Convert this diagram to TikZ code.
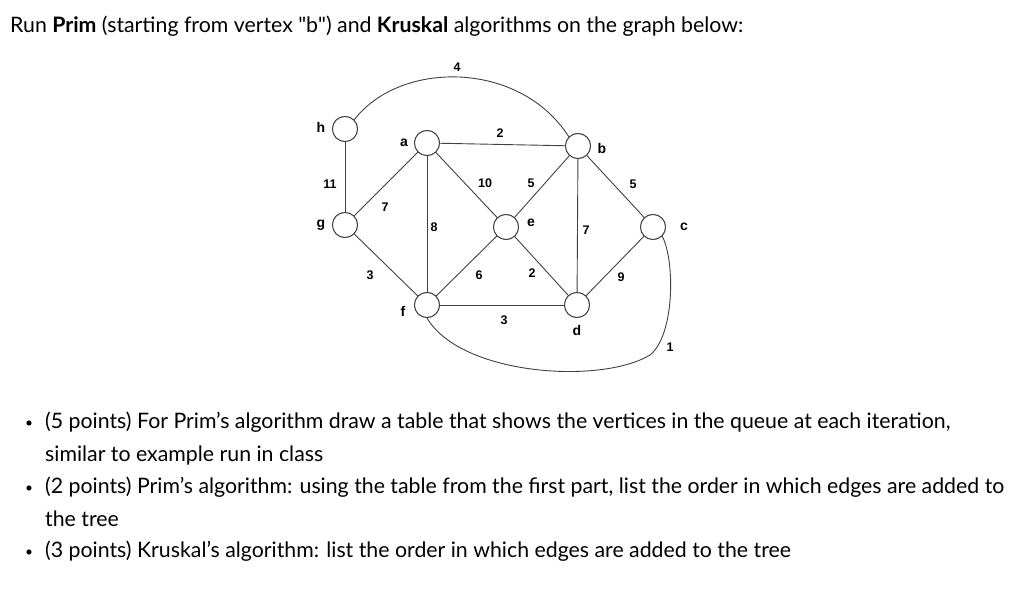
\documentclass[tikz,border=0pt]{standalone}
\usepackage{fontspec}
\setmainfont{Lato}
\newfontfamily\lab{Liberation Sans}
\begin{document}
\begin{tikzpicture}[x=1pt,y=-1pt,
  vtx/.style={circle,draw=black!75,line width=0.9pt,minimum size=25pt,inner sep=0pt,fill=white},
  edge/.style={draw=black!75,line width=0.9pt},
  wl/.style={font=\lab\bfseries\fontsize{12.5}{12.5}\selectfont},
  vl/.style={font=\lab\bfseries\fontsize{14}{14}\selectfont},
  txt/.style={font=\fontsize{21.3}{24}\selectfont,anchor=west,inner sep=0pt}]
\useasboundingbox (0,0) rectangle (1024,593);
\node[txt] (title) at (10,26) {Run \textbf{Prim} (starting from vertex \textquotedbl b\textquotedbl) and \textbf{Kruskal} algorithms on the graph below:};
\node[vtx] (h) at (345,129) {};
\node[vtx] (a) at (427,143) {};
\node[vtx] (b) at (578,146) {};
\node[vtx] (g) at (345,225) {};
\node[vtx] (e) at (506,227) {};
\node[vtx] (c) at (653,227) {};
\node[vtx] (f) at (427,305) {};
\node[vtx] (d) at (577,305) {};
\draw[edge] (h.north east) .. controls (400,60) and (520,60) .. (b.north west);
\draw[edge] (f.south) .. controls (460,375) and (600,385) .. (650,355) .. controls (675,335) and (675,260) .. (c.south east);
\draw[edge] (h) -- (g);
\draw[edge] (a) -- (b);
\draw[edge] (a) -- (g);
\draw[edge] (a) -- (f);
\draw[edge] (a) -- (e);
\draw[edge] (b) -- (e);
\draw[edge] (b) -- (d);
\draw[edge] (b) -- (c);
\draw[edge] (g) -- (f);
\draw[edge] (f) -- (e);
\draw[edge] (e) -- (d);
\draw[edge] (f) -- (d);
\draw[edge] (c) -- (d);
\foreach \n in {h,a,b,g,e,c,f,d} \node[vtx] at (\n) {};
\node[vl] (lh) at (321,127) {h};
\node[vl] (la) at (404,143) {a};
\node[vl] (lb) at (602,148) {b};
\node[vl] (lg) at (321,225) {g};
\node[vl] (le) at (531,223) {e};
\node[vl] (lc) at (684,227) {c};
\node[vl] (lf) at (403,311) {f};
\node[vl] (ld) at (577,330) {d};
\node[wl] (w1) at (457,67) {4};
\node[wl] (w2) at (500,133) {2};
\node[wl] (w3) at (330,184) {11};
\node[wl] (w4) at (385,207) {7};
\node[wl] (w5) at (485,183) {10};
\node[wl] (w6) at (531,183) {5};
\node[wl] (w7) at (633,184) {5};
\node[wl] (w8) at (434,227) {8};
\node[wl] (w9) at (586,230) {7};
\node[wl] (w10) at (370,275) {3};
\node[wl] (w11) at (479,275) {6};
\node[wl] (w12) at (532,273) {2};
\node[wl] (w13) at (621,277) {9};
\node[wl] (w14) at (504,320) {3};
\node[wl] (w15) at (670,347) {1};
\foreach \y/\t in {422/{(5 points) For Prim’s algorithm draw a table that shows the vertices in the queue at each iteration,},
  487/{(2 points) Prim’s algorithm: using the table from the first part, list the order in which edges are added to},
  551/{(3 points) Kruskal’s algorithm: list the order in which edges are added to the tree}}
  {\node[txt] at (45,\y) {\t}; \fill (29,\y+1) circle (2.6);}
\node[txt] (l2) at (45,455) {similar to example run in class};
\node[txt] (l4) at (45,519) {the tree};
\end{tikzpicture}
\end{document}
